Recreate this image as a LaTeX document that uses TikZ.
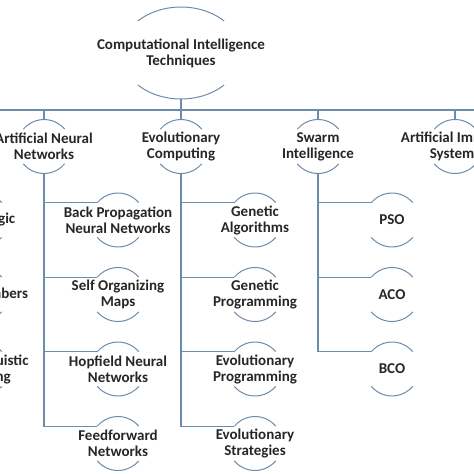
\documentclass[tikz,border=0pt]{standalone}
\usepackage{fontspec}
\setmainfont{Carlito}
\usetikzlibrary{positioning}

\definecolor{linkblue}{RGB}{108,140,172}

\begin{document}
\begin{tikzpicture}[x=1pt,y=1pt,node distance=137pt,
                    every node/.style={font=\bfseries\fontsize{15}{16}\selectfont,
                      align=center,inner sep=0pt,text=black!85},
                    kid/.style={node distance=74.5pt},
                    link/.style={draw=linkblue,line width=1.2pt},
                    rim/.style={draw=linkblue,line width=1pt}]
  \clip (0,0) rectangle (474,-474);
  \useasboundingbox (0,0) rectangle (474,-474);

  \node (root) at (181,-53) {Computational Intelligence\\Techniques};
  \coordinate (busw) at (0,-110);
  \coordinate (buse) at (474,-110);

  \node (ann) at (44,-146.5) {Artificial Neural\\Networks};
  \node (evo) [right of=ann] {Evolutionary\\Computing};
  \node (swa) [right of=evo] {Swarm\\Intelligence};
  \node (ais) [right of=swa] {Artificial Immune\\Systems};

  \node (bp)  at ([shift={(74,-73.5)}]ann.center) {Back Propagation\\Neural Networks};
  \node (som) [kid,below of=bp]  {Self Organizing\\Maps};
  \node (hop) [kid,below of=som] {Hopfield Neural\\Networks};
  \node (ff)  [kid,below of=hop] {Feedforward\\Networks};

  \node (fl) [left of=bp]  {Fuzzy Logic};
  \node (fn) [left of=som] {Fuzzy Numbers};
  \node (fm) [left of=hop] {Fuzzy Linguistic\\Modeling};

  \node (ga) [right of=bp]  {Genetic\\Algorithms};
  \node (gp) [right of=som] {Genetic\\Programming};
  \node (ep) [right of=hop] {Evolutionary\\Programming};
  \node (es) [right of=ff]  {Evolutionary\\Strategies};

  \node (pso) [right of=ga] {PSO};
  \node (aco) [right of=gp] {ACO};
  \node (bco) [right of=ep] {BCO};

  % tree lines
  \draw[link] (busw) -- (buse);
  \draw[link] ([yshift=-46pt]root.center) -- (root |- busw);
  \foreach \n in {ann,evo,swa,ais}
    \draw[link] (\n |- busw) -- ([yshift=27pt]\n.center);
  \foreach \p/\c in {ann/bp,ann/som,ann/hop,ann/ff,evo/ga,evo/gp,evo/ep,evo/es,
                     swa/pso,swa/aco,swa/bco}
    \draw[link] ([yshift=-27pt]\p.center) |- ([shift={(140:27pt)}]\c.center);

  % open rims
  \draw[rim] ([shift={(44:60pt and 46pt)}]root.center)
               arc[start angle=44,end angle=136,x radius=60pt,y radius=46pt]
             ([shift={(224:60pt and 46pt)}]root.center)
               arc[start angle=224,end angle=316,x radius=60pt,y radius=46pt];
  \foreach \n in {ann,evo,swa,ais,fl,fn,fm,bp,som,hop,ff,ga,gp,ep,es,pso,aco,bco}
    \draw[rim] ([shift={(40:27pt)}]\n.center) arc[start angle=40,end angle=140,radius=27pt]
               ([shift={(220:27pt)}]\n.center) arc[start angle=220,end angle=320,radius=27pt];
\end{tikzpicture}
\end{document}
